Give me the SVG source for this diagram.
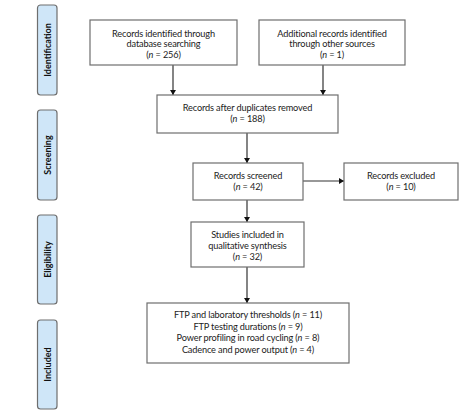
<svg xmlns="http://www.w3.org/2000/svg" width="474" height="418" viewBox="0 0 474 418">
<style>
.box{fill:#fff;stroke:#6e6e6e;stroke-width:1.2}
.side{fill:#cfe6f8;stroke:#6e6e6e;stroke-width:1.2}
.t{font-family:Lato,"Liberation Sans",sans-serif;font-size:9.2px;letter-spacing:-0.15px;fill:#222;text-anchor:middle}
.s{font-family:Lato,"Liberation Sans",sans-serif;font-size:9px;font-weight:bold;fill:#111;text-anchor:middle}
.c{stroke:#333;stroke-width:1.2;fill:none}
</style>
<defs>
<marker id="ah" markerWidth="6" markerHeight="6" refX="5" refY="3" orient="auto" markerUnits="userSpaceOnUse">
<path d="M0,0 L5,3 L0,6 z" fill="#111"/>
</marker>
</defs>
<rect width="474" height="418" fill="#fff"/>
<g id="side-identification"><rect class="side" x="37.5" y="5" width="19.5" height="90" rx="3"/><text class="s" transform="translate(50.5,50) rotate(-90)">Identification</text></g>
<g id="side-screening"><rect class="side" x="37.5" y="110" width="19.5" height="90" rx="3"/><text class="s" transform="translate(50.5,155) rotate(-90)">Screening</text></g>
<g id="side-eligibility"><rect class="side" x="37.5" y="215" width="19.5" height="89" rx="3"/><text class="s" transform="translate(50.5,259.5) rotate(-90)">Eligibility</text></g>
<g id="side-included"><rect class="side" x="37.5" y="320" width="19.5" height="89" rx="3"/><text class="s" transform="translate(50.5,364.5) rotate(-90)">Included</text></g>
<g id="connectors">
<line class="c" x1="173" y1="65" x2="173" y2="95" marker-end="url(#ah)"/>
<line class="c" x1="323" y1="65" x2="323" y2="95" marker-end="url(#ah)"/>
<line class="c" x1="247" y1="133" x2="247" y2="163" marker-end="url(#ah)"/>
<line class="c" x1="303" y1="181" x2="344" y2="181" marker-end="url(#ah)"/>
<line class="c" x1="247" y1="200" x2="247" y2="222" marker-end="url(#ah)"/>
<line class="c" x1="247" y1="267" x2="247" y2="303" marker-end="url(#ah)"/>
</g>
<g id="n1"><rect class="box" x="90" y="20" width="147" height="45"/>
<text class="t" x="163.5" y="36.5">Records identified through</text>
<text class="t" x="163.5" y="47">database searching</text>
<text class="t" x="163.5" y="57.5">(<tspan font-style="italic">n</tspan> = 256)</text></g>
<g id="n2"><rect class="box" x="259" y="20" width="146" height="45"/>
<text class="t" x="332" y="36.5">Additional records identified</text>
<text class="t" x="332" y="47">through other sources</text>
<text class="t" x="332" y="57.5">(<tspan font-style="italic">n</tspan> = 1)</text></g>
<g id="n3"><rect class="box" x="157" y="95" width="181" height="38"/>
<text class="t" x="247.5" y="111">Records after duplicates removed</text>
<text class="t" x="247.5" y="122">(<tspan font-style="italic">n</tspan> = 188)</text></g>
<g id="n4"><rect class="box" x="193" y="163" width="110" height="37"/>
<text class="t" x="248" y="178.5">Records screened</text>
<text class="t" x="248" y="189.5">(<tspan font-style="italic">n</tspan> = 42)</text></g>
<g id="n5"><rect class="box" x="344" y="163" width="114" height="37"/>
<text class="t" x="401" y="178.5">Records excluded</text>
<text class="t" x="401" y="189.5">(<tspan font-style="italic">n</tspan> = 10)</text></g>
<g id="n6"><rect class="box" x="191" y="222" width="113" height="45"/>
<text class="t" x="247.5" y="237.5">Studies included in</text>
<text class="t" x="247.5" y="248.5">qualitative synthesis</text>
<text class="t" x="247.5" y="259.5">(<tspan font-style="italic">n</tspan> = 32)</text></g>
<g id="n7"><rect class="box" x="147" y="303" width="202" height="60"/>
<text class="t" x="248" y="318">FTP and laboratory thresholds (<tspan font-style="italic">n</tspan> = 11)</text>
<text class="t" x="248" y="329.5">FTP testing durations (<tspan font-style="italic">n</tspan> = 9)</text>
<text class="t" x="248" y="341">Power profiling in road cycling (<tspan font-style="italic">n</tspan> = 8)</text>
<text class="t" x="248" y="352.5">Cadence and power output (<tspan font-style="italic">n</tspan> = 4)</text></g>
</svg>
